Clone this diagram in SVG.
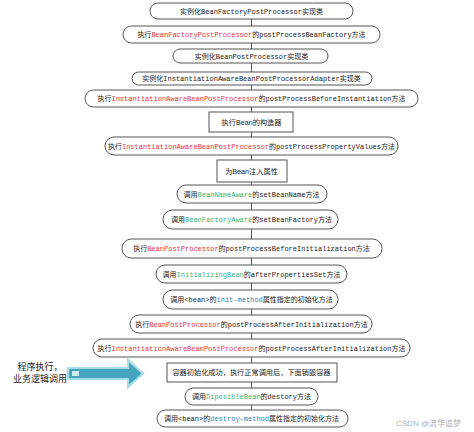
<svg xmlns="http://www.w3.org/2000/svg" width="474" height="432" viewBox="0 0 474 432">
<style>
.box{fill:#fff;stroke:#555;stroke-width:1}
.t{font-family:"Liberation Mono","Noto Sans CJK SC",monospace;font-size:7px;fill:#222;text-anchor:middle}
.s{font-family:"Liberation Sans","Noto Sans CJK SC",sans-serif;font-size:7.2px;fill:#222;text-anchor:middle}
.r{fill:#e8333a}
.g{fill:#3cb371}
.b{fill:#2e7fb0}
.c{stroke:#555;stroke-width:1;fill:none}
.lbl{font-family:"Noto Sans CJK SC","Liberation Sans",sans-serif;font-size:9px;fill:#222;text-anchor:middle}
.wm{font-family:"Liberation Sans","Noto Sans CJK SC",sans-serif;font-size:8px;fill:#b0b0b0;text-anchor:end}
</style>
<rect width="474" height="432" fill="#fff"/>
<g id="connectors">
<line class="c" x1="251.5" y1="19" x2="251.5" y2="26"/>
<line class="c" x1="251.5" y1="43" x2="251.5" y2="49"/>
<line class="c" x1="251.5" y1="63" x2="251.5" y2="72"/>
<line class="c" x1="251.5" y1="85" x2="251.5" y2="90"/>
<line class="c" x1="251.5" y1="107" x2="251.5" y2="112"/>
<line class="c" x1="251.5" y1="132" x2="251.5" y2="137"/>
<line class="c" x1="251.5" y1="155" x2="251.5" y2="160"/>
<line class="c" x1="251.5" y1="182" x2="251.5" y2="185"/>
<line class="c" x1="251.5" y1="203" x2="251.5" y2="210"/>
<line class="c" x1="251.5" y1="229" x2="251.5" y2="239"/>
<line class="c" x1="251.5" y1="258" x2="251.5" y2="265"/>
<line class="c" x1="251.5" y1="283" x2="251.5" y2="290"/>
<line class="c" x1="251.5" y1="309" x2="251.5" y2="315"/>
<line class="c" x1="251.5" y1="333" x2="251.5" y2="339"/>
<line class="c" x1="251.5" y1="357" x2="251.5" y2="363"/>
<line class="c" x1="251.5" y1="382" x2="251.5" y2="388"/>
<line class="c" x1="251.5" y1="405" x2="251.5" y2="410"/>
</g>
<g id="n1"><rect class="box" x="150" y="3" width="203" height="16" rx="8"/><text class="t" x="251.5" y="13.5">实例化BeanFactoryPostProcessor实现类</text></g>
<g id="n2"><rect class="box" x="123" y="26" width="257" height="17" rx="8.5"/><text class="t" x="251.5" y="37">执行<tspan class="r">BeanFactoryPostProcessor</tspan>的postProcessBeanFactory方法</text></g>
<g id="n3"><rect class="box" x="173" y="49" width="155" height="14" rx="7"/><text class="t" x="251.5" y="58.5">实例化BeanPostProcessor实现类</text></g>
<g id="n4"><rect class="box" x="132" y="72" width="240" height="13" rx="6.5"/><text class="t" x="251.5" y="81">实例化InstantiationAwareBeanPostProcessorAdapter实现类</text></g>
<g id="n5"><rect class="box" x="85" y="90" width="333" height="17" rx="8.5"/><text class="t" x="251.5" y="101">执行<tspan class="r">InstantiationAwareBeanPostProcessor</tspan>的postProcessBeforeInstantiation方法</text></g>
<g id="n6"><rect class="box" x="209" y="112" width="84" height="20"/><text class="s" x="251.5" y="124.5">执行Bean的构造器</text></g>
<g id="n7"><rect class="box" x="105" y="137" width="293" height="18" rx="9"/><text class="t" x="251.5" y="148.5">执行<tspan class="r">InstantiationAwareBeanPostProcessor</tspan>的postProcessPropertyValues方法</text></g>
<g id="n8"><rect class="box" x="217" y="160" width="70" height="22"/><text class="s" x="251.5" y="173.5">为Bean注入属性</text></g>
<g id="n9"><rect class="box" x="177" y="185" width="150" height="18" rx="9"/><text class="t" x="251.5" y="196.5">调用<tspan class="g">BeanNameAware</tspan>的setBeanName方法</text></g>
<g id="n10"><rect class="box" x="163" y="210" width="175" height="19" rx="9.5"/><text class="t" x="251.5" y="222">调用<tspan class="g">BeanFactoryAware</tspan>的setBeanFactory方法</text></g>
<g id="n11"><rect class="box" x="122" y="239" width="260" height="19" rx="9.5"/><text class="t" x="251.5" y="251">执行<tspan class="r">BeanPostProcessor</tspan>的postProcessBeforeInitialization方法</text></g>
<g id="n12"><rect class="box" x="156" y="265" width="191" height="18" rx="9"/><text class="t" x="251.5" y="276.5">调用<tspan class="g">InitializingBean</tspan>的afterPropertiesSet方法</text></g>
<g id="n13"><rect class="box" x="163" y="290" width="175" height="19" rx="9.5"/><text class="t" x="251.5" y="302">调用&lt;bean&gt;的<tspan class="b">init-method</tspan>属性指定的初始化方法</text></g>
<g id="n14"><rect class="box" x="130" y="315" width="242" height="18" rx="9"/><text class="t" x="251.5" y="326.5">执行<tspan class="r">BeanPostProcessor</tspan>的postProcessAfterInitialization方法</text></g>
<g id="n15"><rect class="box" x="93" y="339" width="317" height="18" rx="9"/><text class="t" x="251.5" y="350.5">执行<tspan class="r">InstantiationAwareBeanPostProcessor</tspan>的postProcessAfterInitialization方法</text></g>
<g id="n16"><rect class="box" x="167" y="363" width="170" height="19"/><text class="s" x="251.5" y="375">容器初始化成功，执行正常调用后，下面销毁容器</text></g>
<g id="n17"><rect class="box" x="185" y="388" width="133" height="17" rx="8.5"/><text class="t" x="251.5" y="399">调用<tspan class="g">DiposibleBean</tspan>的destory方法</text></g>
<g id="n18"><rect class="box" x="157" y="410" width="191" height="17" rx="8.5"/><text class="t" x="251.5" y="421">调用&lt;bean&gt;的<tspan class="b">destroy-method</tspan>属性指定的初始化方法</text></g>
<g id="side">
<text class="lbl" x="40" y="370">程序执行，</text>
<text class="lbl" x="40" y="382">业务逻辑调用</text>
<path d="M68,368 L128,368 L128,360 L143,373.5 L128,387 L128,379 L68,379 Z" fill="#46a5be" stroke="#a8dbe8" stroke-width="2.2" stroke-linejoin="miter"/>
<rect x="72" y="371" width="7" height="5" fill="#c9eef6"/>
</g>
<text class="wm" x="461" y="426">CSDN @流华追梦</text>
</svg>
